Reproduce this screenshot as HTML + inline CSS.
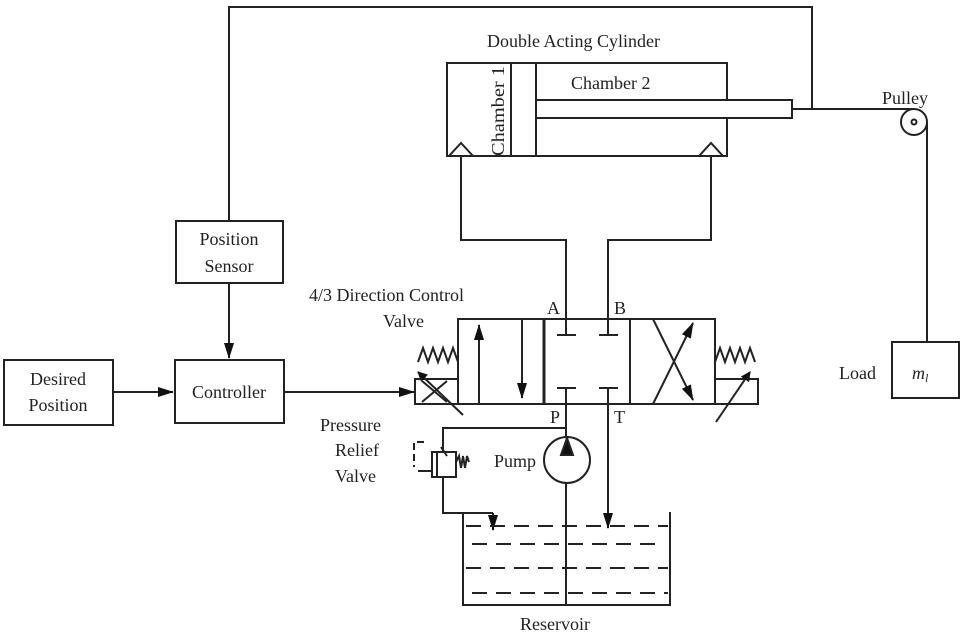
<!DOCTYPE html>
<html><head><style>body{margin:0;background:#fff}svg{display:block}text{font-family:"Liberation Serif",serif;fill:#222}</style></head>
<body>
<svg width="969" height="637" viewBox="0 0 969 637" xmlns="http://www.w3.org/2000/svg">
<defs><marker id="ar" markerWidth="10" markerHeight="10" refX="9" refY="5" orient="auto" markerUnits="userSpaceOnUse"><path d="M0,0 L10,5 L0,10 Z" fill="#111"/></marker>
<marker id="ab" markerWidth="16" markerHeight="12" refX="15" refY="6" orient="auto" markerUnits="userSpaceOnUse"><path d="M0,1 L16,6 L0,11 Z" fill="#111"/></marker></defs>
<g stroke="#222" stroke-width="2" fill="none">
<rect x="4" y="360" width="109" height="65"/>
<rect x="175" y="360" width="109" height="63"/>
<rect x="176" y="221" width="107" height="62"/>
<rect x="892" y="342" width="67" height="56"/>
<polyline points="812,109 812,7 229,7 229,221"/>
<line x1="229" y1="283" x2="229" y2="358" marker-end="url(#ab)"/>
<line x1="113" y1="392" x2="173" y2="392" marker-end="url(#ab)"/>
<line x1="284" y1="392" x2="414" y2="392" marker-end="url(#ab)"/>
<rect x="447" y="63" width="280" height="93"/>
<line x1="511" y1="63" x2="511" y2="156"/>
<line x1="536" y1="63" x2="536" y2="156"/>
<rect x="536" y="100" width="256" height="18" fill="#fff"/>
<line x1="792" y1="109" x2="914" y2="109"/>
<circle cx="914" cy="122" r="13"/>
<circle cx="914" cy="122" r="2.5"/>
<line x1="927" y1="122" x2="927" y2="342"/>
<polyline points="449,156 461,143 473,156"/>
<polyline points="699,156 711,143 723,156"/>
<polyline points="566,319 566,240 461,240 461,156"/>
<polyline points="608,319 608,240 711,240 711,156"/>
<rect x="458" y="319" width="257" height="85"/>
<line x1="544" y1="319" x2="544" y2="404" stroke-width="3"/>
<line x1="630" y1="319" x2="630" y2="404"/>
<line x1="479" y1="404" x2="479" y2="325" marker-end="url(#ab)"/>
<line x1="522" y1="319" x2="522" y2="398" marker-end="url(#ab)"/>
<line x1="566" y1="319" x2="566" y2="335"/><line x1="557" y1="335" x2="576" y2="335"/>
<line x1="608" y1="319" x2="608" y2="335"/><line x1="599" y1="335" x2="618" y2="335"/>
<line x1="566" y1="388" x2="566" y2="404"/><line x1="557" y1="388" x2="576" y2="388"/>
<line x1="608" y1="388" x2="608" y2="404"/><line x1="599" y1="388" x2="618" y2="388"/>
<line x1="653" y1="319" x2="693" y2="400" marker-end="url(#ab)"/>
<line x1="653" y1="404" x2="693" y2="323" marker-end="url(#ab)"/>
<rect x="415" y="379" width="43" height="25"/>
<line x1="422" y1="402" x2="447" y2="381"/><line x1="422" y1="381" x2="447" y2="402"/>
<polyline points="418,362 423,348 428,362 433,348 438,362 443,348 448,362 453,348 458,362"/>
<line x1="463" y1="415" x2="418" y2="372" marker-end="url(#ar)"/>
<rect x="715" y="379" width="43" height="25"/>
<polyline points="715,362 720,348 725,362 730,348 735,362 740,348 745,362 750,348 755,362"/>
<line x1="716" y1="422" x2="750" y2="372" marker-end="url(#ar)"/>
<line x1="566" y1="404" x2="566" y2="605"/>
<line x1="608" y1="404" x2="608" y2="528" marker-end="url(#ab)"/>
<circle cx="567" cy="460" r="23" fill="#fff"/>
<path d="M561,455 L567,438 L573,455 Z" fill="#111"/>
<polyline points="566,428 443,428 443,452"/>
<rect x="432" y="452" width="24" height="25"/>
<line x1="437" y1="452" x2="437" y2="477"/>
<polyline points="456,462 459,456 461,468 463,456 465,468 467,456 469,462"/>
<path d="M424,442 L414,442 L414,467" stroke-dasharray="7,4"/>
<line x1="418" y1="471" x2="432" y2="471"/>
<line x1="441" y1="447" x2="447" y2="456"/>
<polyline points="443,477 443,513 493,513"/>
<line x1="493" y1="513" x2="493" y2="530" marker-end="url(#ab)"/>
<polyline points="463,513 463,605 670,605 670,512"/>
<g stroke-dasharray="15,9">
<line x1="466" y1="526" x2="668" y2="526"/>
<line x1="472" y1="544" x2="660" y2="544"/>
<line x1="466" y1="568" x2="668" y2="568"/>
<line x1="472" y1="593" x2="668" y2="593"/>
</g>
</g>
<g font-size="18">
<text x="487" y="47">Double Acting Cylinder</text>
<text x="571" y="89">Chamber 2</text>
<text transform="translate(504,156) rotate(-90)" textLength="90" lengthAdjust="spacingAndGlyphs">Chamber 1</text>
<text x="882" y="104">Pulley</text>
<text x="839" y="379">Load</text>
<text x="912" y="379" font-style="italic">m<tspan font-size="12" dy="3">l</tspan></text>
<text x="229" y="245" text-anchor="middle">Position</text>
<text x="229" y="272" text-anchor="middle">Sensor</text>
<text x="58" y="385" text-anchor="middle">Desired</text>
<text x="58" y="411" text-anchor="middle">Position</text>
<text x="229" y="398" text-anchor="middle">Controller</text>
<text x="309" y="301">4/3 Direction Control</text>
<text x="383" y="327">Valve</text>
<text x="547" y="314">A</text>
<text x="614" y="314">B</text>
<text x="550" y="423">P</text>
<text x="614" y="423">T</text>
<text x="320" y="431">Pressure</text>
<text x="335" y="456">Relief</text>
<text x="335" y="482">Valve</text>
<text x="494" y="467">Pump</text>
<text x="520" y="630">Reservoir</text>
</g>
</svg>
</body></html>
